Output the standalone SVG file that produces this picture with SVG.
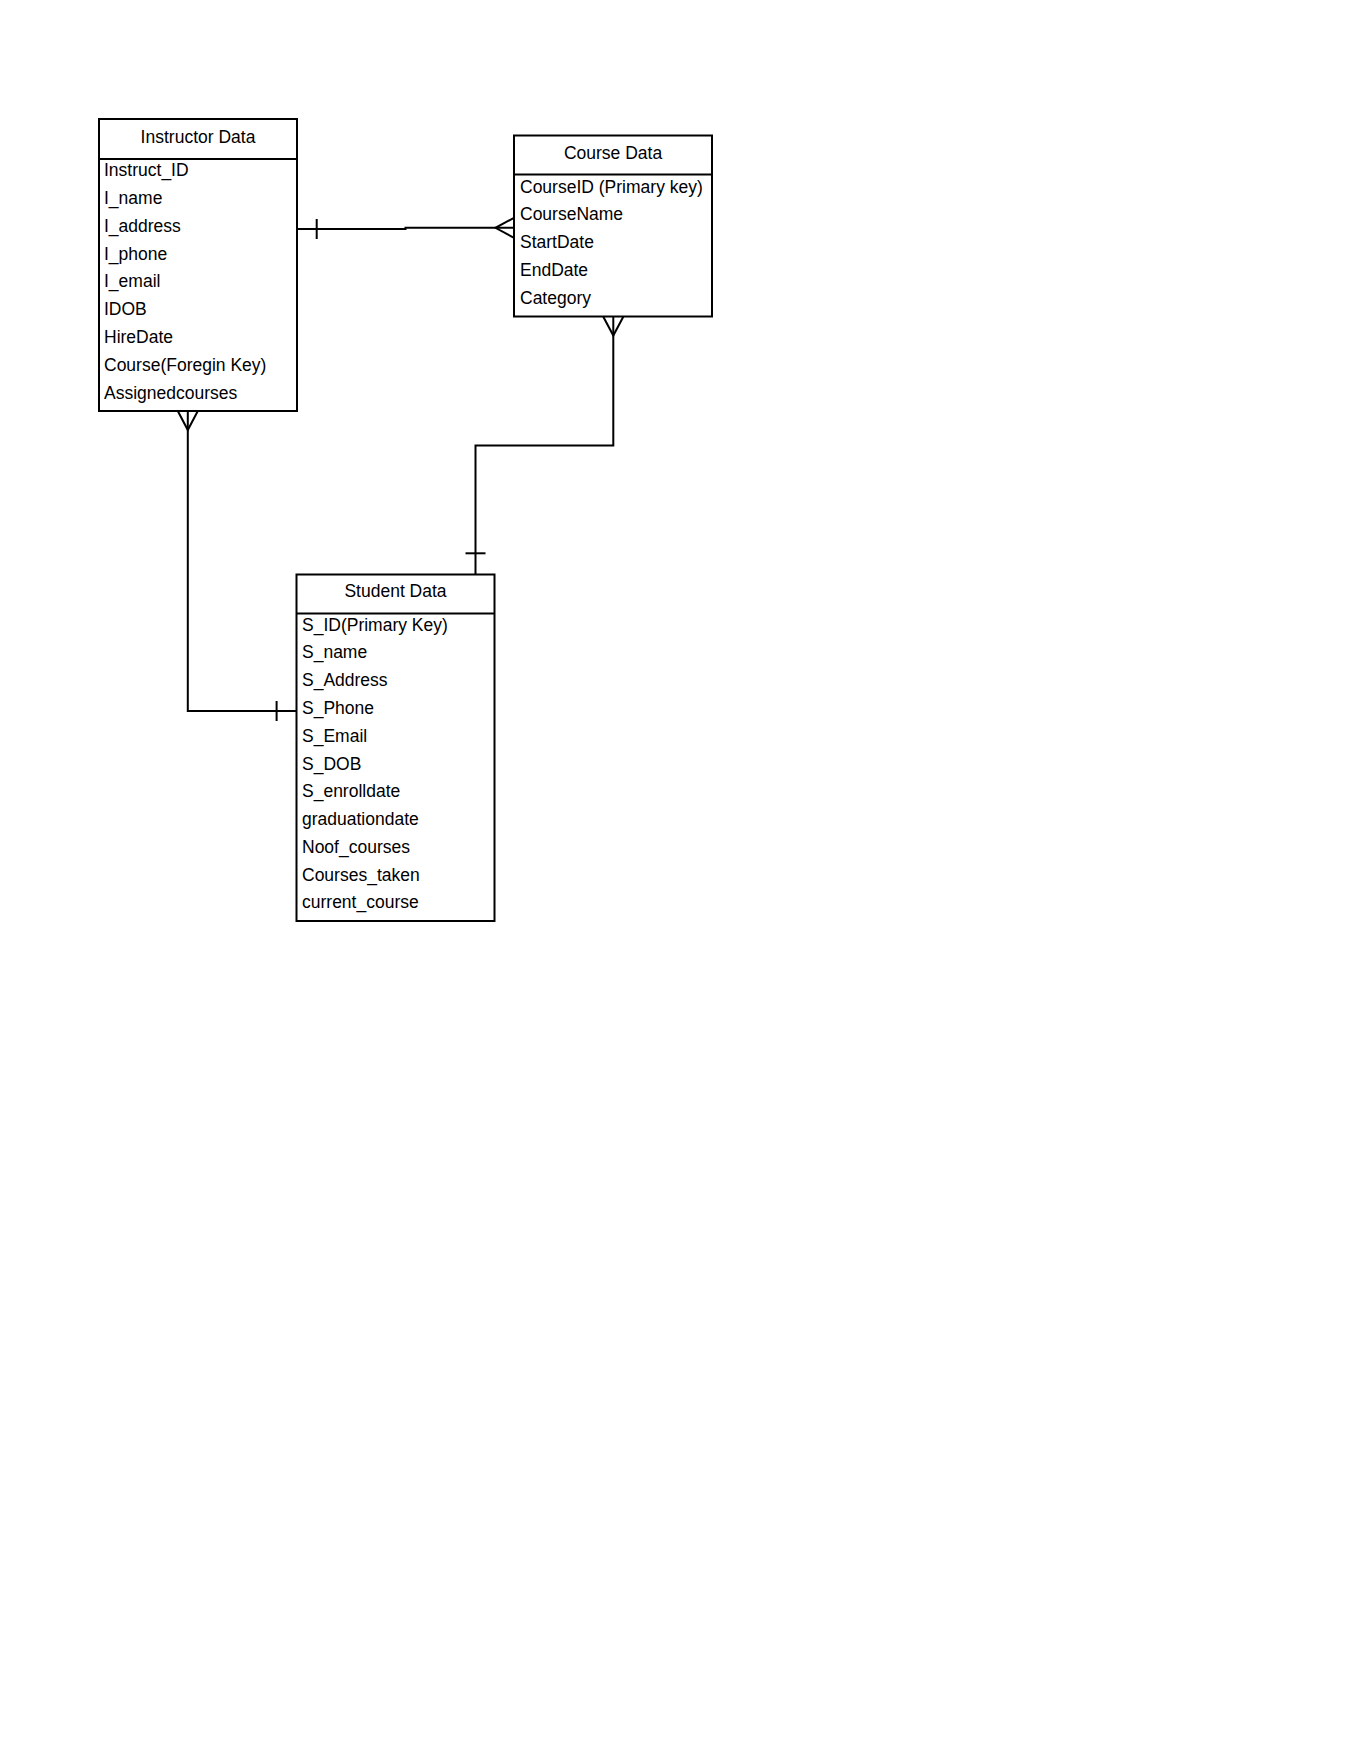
<svg xmlns="http://www.w3.org/2000/svg" width="1360" height="1760" viewBox="0 0 1360 1760">
<style>
.box{fill:#fff;stroke:#000;stroke-width:2}
.ln{fill:none;stroke:#000;stroke-width:2}
text{font-family:"Liberation Sans",Arial,sans-serif;font-size:17.5px;fill:#000}
.h{text-anchor:middle}
</style>
<rect width="1360" height="1760" fill="#fff"/>
<g id="instructor">
<rect class="box" x="99" y="119" width="198" height="292"/>
<line class="ln" x1="99" y1="159" x2="297" y2="159"/>
<text class="h" x="198" y="142.5">Instructor Data</text>
<text x="104" y="176">Instruct_ID</text>
<text x="104" y="204">I_name</text>
<text x="104" y="231.5">I_address</text>
<text x="104" y="259.5">I_phone</text>
<text x="104" y="287">I_email</text>
<text x="104" y="315">IDOB</text>
<text x="104" y="343">HireDate</text>
<text x="104" y="370.5">Course(Foregin Key)</text>
<text x="104" y="398.5">Assignedcourses</text>
</g>
<g id="course">
<rect class="box" x="514" y="135.5" width="198" height="181"/>
<line class="ln" x1="514" y1="174.5" x2="712" y2="174.5"/>
<text class="h" x="613" y="159">Course Data</text>
<text x="520" y="192.5">CourseID (Primary key)</text>
<text x="520" y="220">CourseName</text>
<text x="520" y="248">StartDate</text>
<text x="520" y="275.5">EndDate</text>
<text x="520" y="303.5">Category</text>
</g>
<g id="student">
<rect class="box" x="296.5" y="574.5" width="198" height="346.5"/>
<line class="ln" x1="296.5" y1="613.5" x2="494.5" y2="613.5"/>
<text class="h" x="395.5" y="597">Student Data</text>
<text x="302" y="630.5">S_ID(Primary Key)</text>
<text x="302" y="658">S_name</text>
<text x="302" y="686">S_Address</text>
<text x="302" y="714">S_Phone</text>
<text x="302" y="741.5">S_Email</text>
<text x="302" y="769.5">S_DOB</text>
<text x="302" y="797">S_enrolldate</text>
<text x="302" y="825">graduationdate</text>
<text x="302" y="852.5">Noof_courses</text>
<text x="302" y="880.5">Courses_taken</text>
<text x="302" y="908">current_course</text>
</g>
<g id="connectors">
<path class="ln" d="M297 229 H405.5 V227.8 H514"/>
<line class="ln" x1="316.7" y1="219" x2="316.7" y2="239"/>
<path class="ln" d="M514 217.8 L495.5 227.8 L514 237.8"/>
<path class="ln" d="M613.3 316.7 V445.5 H475.5 V574.5"/>
<path class="ln" d="M603.3 316.7 L613.3 335.5 L623.3 316.7"/>
<line class="ln" x1="465.5" y1="553.3" x2="485.5" y2="553.3"/>
<path class="ln" d="M187.8 411 V711 H296.5"/>
<path class="ln" d="M177.8 411 L187.8 430 L197.8 411"/>
<line class="ln" x1="276.6" y1="701" x2="276.6" y2="721"/>
</g>
</svg>
